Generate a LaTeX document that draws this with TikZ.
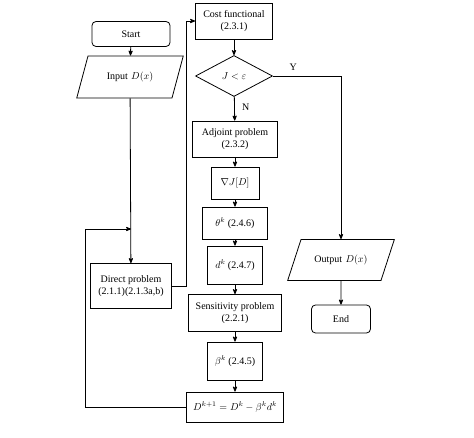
\documentclass[tikz,border=0pt]{standalone}
\usepackage{fontspec}
\setmainfont{Liberation Serif}
\usetikzlibrary{arrows,shapes,positioning,calc}
\tikzset{
    box/.style={
        rectangle,
        draw=black,
        line width=0.8pt,
        inner sep=2pt,
        align=center,
    },
    term/.style={
        rectangle,
        rounded corners=4pt,
        draw=black,
        line width=0.8pt,
        align=center,
    },
    io/.style={
        trapezium,
        trapezium left angle=75,
        trapezium right angle=105,
        draw=black,
        line width=0.8pt,
        text width=60pt,
        align=center,
        text height=7.5pt,
        text depth=2.5pt,
        inner xsep=12pt,
        inner ysep=16pt,
    },
    test/.style={
        diamond,
        draw=black,
        line width=0.8pt,
        inner sep=0pt,
    },
    flow/.style={
        draw,
        ->,>=stealth',
        line width=0.8pt,
    },
}
\begin{document}
\begin{tikzpicture}[x=1pt,y=-1pt,font=\fontsize{10}{12}\selectfont]
    \useasboundingbox (0,0) rectangle (474,438);

    % left column
    \node [term, minimum width=78pt, minimum height=25pt] (start) at (131,34) {Start};
    \node [io] (input) at (130,77) {Input $D(x)$};
    \node [box, minimum width=81pt, minimum height=45pt] (direct) at (131,286) {Direct problem\\(2.1.1)(2.1.3a,b)};
    \coordinate (join) at (131,229);

    % middle column
    \node [box, minimum width=77pt, minimum height=36pt] (cost) at (234,21) {Cost functional\\(2.3.1)};
    \node [test, minimum width=77pt, minimum height=41pt] (check) at (234,76) {$J<\varepsilon$};
    \node [box, minimum width=85pt, minimum height=36pt] (adjoint) at (235,139) {Adjoint problem\\(2.3.2)};
    \node [box, minimum width=48pt, minimum height=32pt] (grad) at (235,183) {$\nabla J[D]$};
    \node [box, minimum width=65pt, minimum height=32pt] (theta) at (235,223) {$\theta^k$ (2.4.6)};
    \node [box, minimum width=55pt, minimum height=38pt] (dir) at (235,265) {$d^k$ (2.4.7)};
    \node [box, minimum width=93pt, minimum height=37pt] (sens) at (235,313) {Sensitivity problem\\(2.2.1)};
    \node [box, minimum width=55pt, minimum height=38pt] (beta) at (235,361) {$\beta^k$ (2.4.5)};
    \node [box, minimum width=97pt, minimum height=30pt] (update) at (235,407) {$D^{k+1}=D^k-\beta^k d^k$};

    % right column
    \node [io, trapezium left angle=72, trapezium right angle=108, inner xsep=10pt, inner ysep=15.5pt] (output) at (341,260) {Output $D(x)$};
    \node [term, minimum width=59pt, minimum height=28pt] (end) at (341,319) {End};

    \draw [flow] (start) -- (input);
    \draw [flow] (input) -- (direct);
    \draw [flow] (direct.east) -| (186,21) -- (cost.west);
    \draw [flow] (cost) -- (check);
    \draw [flow] (check) -- node[right, pos=0.45, xshift=4pt] {N} (adjoint);
    \draw [flow] (check.east) -| node[above, pos=0.15, yshift=2pt] {Y} (output.north);
    \draw [flow] (adjoint) -- (grad);
    \draw [flow] (grad) -- (theta);
    \draw [flow] (theta) -- (dir);
    \draw [flow] (dir) -- (sens);
    \draw [flow] (sens) -- (beta);
    \draw [flow] (beta) -- (update);
    \draw [flow] (update.west) -| (85,229) -- (join);
    \draw [flow] (output) -- (end);
\end{tikzpicture}
\end{document}
